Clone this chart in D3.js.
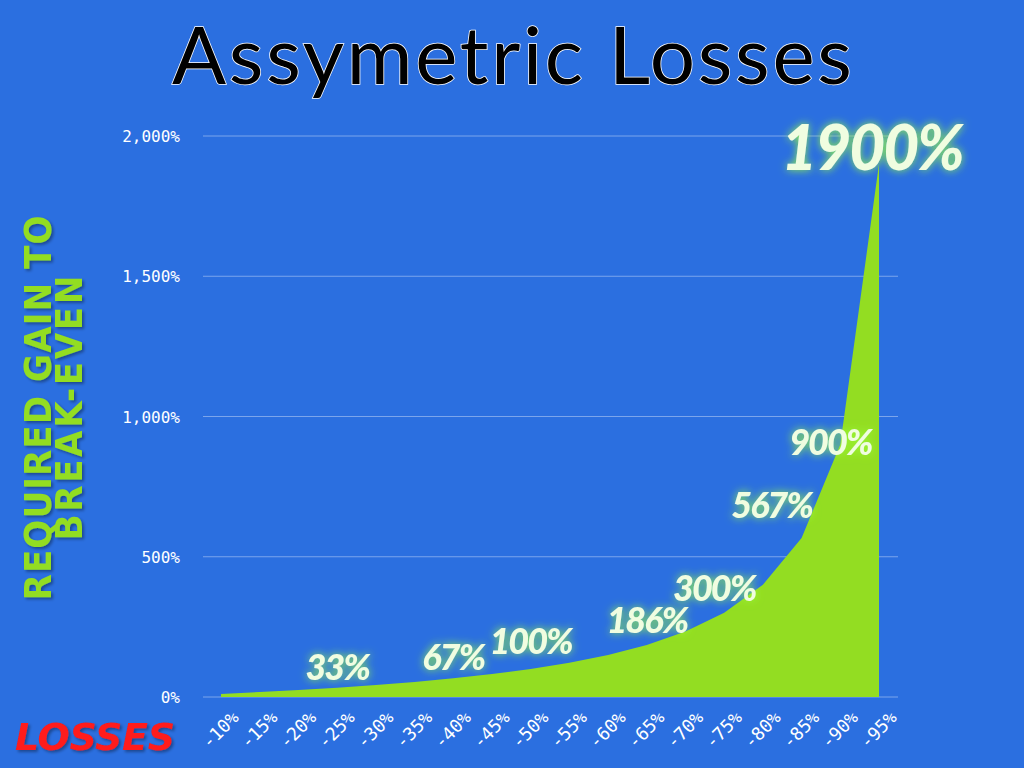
<!DOCTYPE html>
<html><head><meta charset="utf-8">
<script src="https://cdn.jsdelivr.net/npm/d3@7"></script>
<style>body{margin:0;background:#2b6fe0;}svg{display:block}</style>
</head><body>
<svg id="c" width="1024" height="768"></svg>
<script>
const losses = ["-10%","-15%","-20%","-25%","-30%","-35%","-40%","-45%","-50%","-55%","-60%","-65%","-70%","-75%","-80%","-85%","-90%","-95%"];
const gains = [11.1,17.6,25,33.3,42.9,53.8,66.7,81.8,100,122.2,150,185.7,233.3,300,400,566.7,900,1900];
const yTicks = [0,500,1000,1500,2000];
const callouts = [
 {i:3,text:"33%",dx:0,dy:-8,size:36},
 {i:6,text:"67%",dx:0,dy:-8,size:36},
 {i:8,text:"100%",dx:0,dy:-15,size:36},
 {i:11,text:"186%",dx:0,dy:-12,size:36},
 {i:13,text:"300%",dx:-10,dy:-12,size:36},
 {i:15,text:"567%",dx:-30,dy:-20,size:36},
 {i:16,text:"900%",dx:-10,dy:10,size:36},
 {i:17,text:"1900%",dx:-7,dy:6,size:62}
];
const svg = d3.select("#c");
const x = d3.scalePoint().domain(losses).range([221,879]);
const y = d3.scaleLinear().domain([0,2000]).range([697,136]);
const defs = svg.append("defs");
const f = defs.append("filter").attr("id","glow").attr("x","-50%").attr("y","-50%").attr("width","200%").attr("height","200%");
f.append("feGaussianBlur").attr("in","SourceAlpha").attr("stdDeviation",4).attr("result","b");
f.append("feFlood").attr("flood-color","#9cff3a").attr("flood-opacity",0.9);
f.append("feComposite").attr("in2","b").attr("operator","in").attr("result","g");
const m = f.append("feMerge"); m.append("feMergeNode").attr("in","g"); m.append("feMergeNode").attr("in","SourceGraphic");
const sh = defs.append("filter").attr("id","sh");
sh.append("feDropShadow").attr("dx",2).attr("dy",2).attr("stdDeviation",1.5).attr("flood-color","#000").attr("flood-opacity",0.35);

svg.append("g").selectAll("line").data(yTicks).join("line")
 .attr("x1",203).attr("x2",898).attr("y1",d=>y(d)).attr("y2",d=>y(d))
 .attr("stroke","#8fb3f0").attr("stroke-width",1).attr("opacity",0.8);
svg.append("g").selectAll("text").data(yTicks).join("text")
 .attr("x",180).attr("y",d=>y(d)+6).attr("text-anchor","end")
 .attr("fill","#fff").attr("font-family","DejaVu Sans Mono").attr("font-size",16)
 .text(d=>d3.format(",")(d)+"%");

const area = d3.area().x((d,i)=>x(losses[i])).y0(y(0)).y1(d=>y(d));
svg.append("path").datum(gains).attr("d",area).attr("fill","#93dd22");

svg.append("g").selectAll("text").data(losses).join("text")
 .attr("transform",d=>`translate(${x(d)+10},${710}) rotate(-45)`)
 .attr("text-anchor","end").attr("dy","0.7em")
 .attr("fill","#fff").attr("font-family","DejaVu Sans Mono").attr("font-size",18)
 .text(d=>d);

svg.append("g").selectAll("text").data(callouts).join("text")
 .attr("x",d=>x(losses[d.i])+d.dx).attr("y",d=>y(gains[d.i])+d.dy)
 .attr("text-anchor","middle").attr("fill","#f0fde0").attr("filter","url(#glow)")
 .attr("font-family","Lato").attr("font-weight",900).attr("font-style","italic")
 .attr("font-size",d=>d.size).attr("letter-spacing",-2).text(d=>d.text);

svg.append("text").attr("x",512).attr("y",84).attr("text-anchor","middle")
 .attr("font-family","Lato").attr("font-size",80).attr("fill","#000").attr("textLength",680)
 .attr("stroke","#fff").attr("stroke-width",1.5).attr("paint-order","stroke")
 .text("Assymetric Losses");

const yt = svg.append("g").attr("filter","url(#sh)").attr("font-family","DejaVu Sans Condensed").attr("font-weight","bold")
 .attr("font-size",38).attr("fill","#93dd22").attr("text-anchor","middle");
yt.append("text").attr("transform","translate(51,408) rotate(-90)").attr("textLength",385).text("REQUIRED GAIN TO");
yt.append("text").attr("transform","translate(82,408) rotate(-90)").attr("textLength",265).text("BREAK-EVEN");

svg.append("text").attr("x",95).attr("y",750).attr("text-anchor","middle").attr("filter","url(#sh)")
 .attr("font-family","DejaVu Sans").attr("font-weight","bold").attr("font-style","italic")
 .attr("font-size",38).attr("fill","#ff1a1a").attr("textLength",160).text("LOSSES");
</script>
</body></html>
